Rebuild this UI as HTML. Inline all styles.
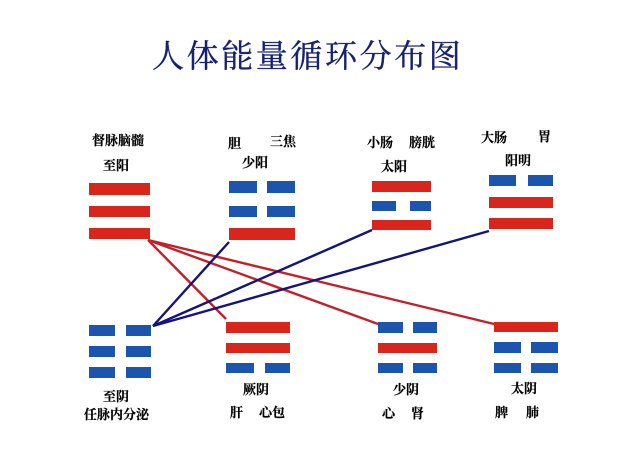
<!DOCTYPE html>
<html><head><meta charset="utf-8"><style>
html,body{margin:0;padding:0;background:#fff}
#p{position:relative;width:640px;height:451px;overflow:hidden;background:#fff;filter:blur(0.35px)}
svg{position:absolute;left:0;top:0}
.t{position:absolute;font-family:"Liberation Serif","Noto Serif CJK SC",serif;font-size:13px;line-height:14px;color:#000;white-space:pre;font-weight:700;-webkit-text-stroke:0.2px #000}
.h{position:absolute;left:152px;top:36px;font-family:"Liberation Serif","Noto Serif CJK SC",serif;font-size:32px;line-height:40px;letter-spacing:2.6px;color:#16226e;white-space:pre;-webkit-text-stroke:0.35px #16226e}
</style></head><body><div id="p">
<div class="h">人体能量循环分布图</div>
<svg width="640" height="451" viewBox="0 0 640 451">
<g fill="#d9261c">
<rect x="89" y="183" width="61" height="12"/><rect x="89" y="206" width="61" height="11"/><rect x="89" y="228" width="61" height="11"/>
<rect x="229" y="228" width="66" height="12"/>
<rect x="372" y="181" width="59" height="11"/><rect x="372" y="220" width="59" height="10"/>
<rect x="489" y="197" width="64" height="11"/><rect x="489" y="218" width="64" height="11"/>
<rect x="226" y="322" width="64" height="11"/><rect x="226" y="343" width="64" height="10"/>
<rect x="378" y="343" width="59" height="10"/>
<rect x="494" y="322" width="64" height="10"/>
</g>
<g fill="#1b55ae">
<rect x="229" y="181" width="28" height="12"/><rect x="267" y="181" width="28" height="12"/>
<rect x="229" y="206" width="28" height="11"/><rect x="267" y="206" width="28" height="11"/>
<rect x="372" y="201" width="24" height="10"/><rect x="410" y="201" width="21" height="10"/>
<rect x="489" y="175" width="27" height="11"/><rect x="528" y="175" width="25" height="11"/>
<rect x="89" y="325" width="26" height="11"/><rect x="126" y="325" width="25" height="11"/>
<rect x="89" y="346" width="26" height="11"/><rect x="126" y="346" width="25" height="11"/>
<rect x="89" y="367" width="26" height="11"/><rect x="126" y="367" width="25" height="11"/>
<rect x="226" y="363" width="28" height="10"/><rect x="265" y="363" width="25" height="10"/>
<rect x="378" y="322" width="25" height="11"/><rect x="413" y="322" width="24" height="11"/>
<rect x="378" y="363" width="25" height="10"/><rect x="413" y="363" width="24" height="10"/>
<rect x="494" y="342" width="27" height="11"/><rect x="531" y="342" width="27" height="11"/>
<rect x="494" y="363" width="27" height="10"/><rect x="531" y="363" width="27" height="10"/>
</g>
<g stroke="#c4202a" stroke-width="2.4" fill="none">
<line x1="148" y1="240" x2="226" y2="319"/>
<line x1="148" y1="240" x2="378" y2="324"/>
<line x1="148" y1="240" x2="494" y2="324"/>
</g>
<g stroke="#14147a" stroke-width="2.4" fill="none">
<line x1="153" y1="326" x2="229" y2="242"/>
<line x1="153" y1="326" x2="372" y2="230"/>
<line x1="153" y1="326" x2="489" y2="231"/>
</g>
</svg>
<div class="t" style="left:92px;top:134px">督脉脑髓</div>
<div class="t" style="left:103px;top:159px">至阳</div>
<div class="t" style="left:228px;top:137px">胆</div>
<div class="t" style="left:270px;top:135px">三焦</div>
<div class="t" style="left:242px;top:156px">少阳</div>
<div class="t" style="left:367px;top:136px">小肠</div>
<div class="t" style="left:409px;top:136px">膀胱</div>
<div class="t" style="left:381px;top:160px">太阳</div>
<div class="t" style="left:481px;top:131px">大肠</div>
<div class="t" style="left:538px;top:130px">胃</div>
<div class="t" style="left:505px;top:154px">阳明</div>
<div class="t" style="left:103px;top:390px">至阴</div>
<div class="t" style="left:84px;top:408px">任脉内分泌</div>
<div class="t" style="left:243px;top:383px">厥阴</div>
<div class="t" style="left:230px;top:406px">肝</div>
<div class="t" style="left:259px;top:406px">心包</div>
<div class="t" style="left:393px;top:383px">少阴</div>
<div class="t" style="left:382px;top:407px">心</div>
<div class="t" style="left:411px;top:407px">肾</div>
<div class="t" style="left:511px;top:382px">太阴</div>
<div class="t" style="left:495px;top:406px">脾</div>
<div class="t" style="left:526px;top:406px">肺</div>
</div></body></html>
